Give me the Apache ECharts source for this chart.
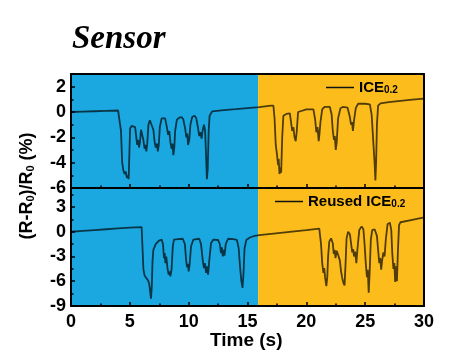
<!DOCTYPE html>
<html>
<head>
<meta charset="utf-8">
<script src="https://cdn.jsdelivr.net/npm/echarts@6/dist/echarts.min.js"></script>
<style>
html,body{margin:0;padding:0;background:#fff;}
#chart{width:474px;height:355px;}
</style>
</head>
<body>
<div id="chart"></div>
<script>
// ---------- data ----------
var titleText = 'Sensor';
var xTicks = [0, 5, 10, 15, 20, 25, 30];
var topTicks = [-6, -4, -2, 0, 2];
var bottomTicks = [-9, -6, -3, 0, 3];
var phaseSplit = 15.9;   // boundary between the blue and orange phases (s)
var seriesNames = ['ICE', 'Reused ICE'];

// ICE0.2 : [time (s), (R-R0)/R0 (%)]
var icePoints = [
[0,0],[1,0.03],[2,0.06],[3,0.09],[4,0.12],[4.15,0.13],[4.25,-1.5],[4.35,-4.0],[4.45,-4.6],[4.55,-4.9],
[4.65,-4.7],[4.75,-5.2],[4.85,-5.0],[4.9,-5.3],[4.97,-3.0],[5.02,-1.3],[5.15,-1.1],[5.3,-1.0],[5.45,-1.2],
[5.55,-2.0],[5.62,-2.6],[5.7,-2.2],[5.78,-2.8],[5.86,-2.4],[5.95,-1.4],[6.05,-1.3],[6.15,-2.2],[6.25,-2.9],
[6.32,-2.6],[6.4,-3.1],[6.48,-2.5],[6.58,-1.0],[6.7,-0.65],[6.85,-0.7],[7.0,-1.4],[7.1,-2.3],[7.2,-2.8],
[7.3,-2.5],[7.38,-3.1],[7.46,-2.6],[7.55,-1.2],[7.7,-0.5],[7.85,-0.4],[8.0,-0.5],[8.15,-1.2],[8.25,-1.8],
[8.35,-1.5],[8.45,-2.4],[8.55,-2.9],[8.62,-2.5],[8.7,-3.4],[8.78,-2.8],[8.85,-1.5],[9.0,-0.6],[9.2,-0.45],
[9.4,-0.4],[9.55,-0.6],[9.7,-1.3],[9.8,-2.0],[9.88,-1.7],[9.95,-2.6],[10.05,-2.2],[10.15,-1.0],[10.3,-0.4],
[10.5,-0.3],[10.65,-0.5],[10.8,-1.3],[10.9,-1.9],[11.0,-1.6],[11.1,-2.1],[11.2,-1.4],[11.3,-1.0],[11.4,-1.5],
[11.48,-3.5],[11.55,-5.3],[11.62,-4.5],[11.7,-1.5],[11.78,-0.3],[12,0.05],[13,0.15],[14,0.22],[15,0.3],
[16,0.38],[17.0,0.5],[17.2,0.5],[17.3,-0.5],[17.4,-2.6],[17.5,-3.3],[17.6,-4.2],[17.65,-3.7],[17.72,-4.9],
[17.8,-4.4],[17.86,-4.8],[17.95,-2.0],[18.05,-0.3],[18.3,-0.15],[18.6,-0.1],[18.7,-0.8],[18.8,-1.5],
[18.9,-1.2],[19.0,-2.0],[19.1,-2.3],[19.18,-1.6],[19.3,0.0],[19.45,0.15],[20,0.2],[20.6,0.2],[20.75,-0.6],
[20.85,-1.6],[20.95,-1.2],[21.05,-2.3],[21.12,-1.7],[21.2,-0.8],[21.35,0.2],[21.55,0.4],[22.0,0.4],
[22.15,-0.2],[22.25,-1.5],[22.35,-2.2],[22.42,-1.9],[22.5,-3.0],[22.58,-2.4],[22.7,-0.5],[22.9,0.3],
[23.1,0.4],[23.5,0.35],[23.7,-0.4],[23.8,-1.0],[23.88,-0.8],[23.96,-1.5],[24.05,-0.7],[24.2,0.3],
[24.4,0.65],[25.0,0.65],[25.4,0.6],[25.55,-0.2],[25.7,-2.5],[25.8,-4.0],[25.87,-5.4],[25.93,-4.0],
[26.0,-1.0],[26.1,0.5],[26.3,0.68],[27,0.78],[28,0.88],[29,0.97],[30,1.06]
];

// Reused ICE0.2 : [time (s), (R-R0)/R0 (%)]
var reusedPoints = [
[0,0],[1,0.1],[2,0.2],[3,0.3],[4,0.4],[5,0.5],[6.0,0.57],[6.08,-2.0],[6.15,-4.5],[6.25,-5.3],[6.4,-5.6],
[6.55,-5.9],[6.65,-6.3],[6.72,-7.2],[6.8,-8.1],[6.87,-6.5],[6.93,-3.5],[7.0,-2.2],[7.2,-1.5],[7.45,-1.1],
[7.7,-0.95],[7.82,-1.5],[7.9,-3.2],[7.96,-2.6],[8.02,-3.8],[8.1,-3.0],[8.2,-4.4],[8.3,-5.2],[8.38,-4.8],
[8.45,-5.4],[8.55,-4.5],[8.65,-1.8],[8.75,-0.95],[9.1,-0.9],[9.5,-0.85],[9.68,-1.5],[9.78,-3.4],[9.86,-4.3],
[9.93,-3.9],[10.0,-4.8],[10.08,-4.0],[10.2,-1.8],[10.4,-0.95],[10.9,-0.85],[11.05,-1.5],[11.2,-3.5],
[11.3,-4.4],[11.38,-3.8],[11.48,-5.0],[11.55,-4.2],[11.65,-5.2],[11.75,-3.5],[11.9,-1.4],[12.1,-0.95],
[12.5,-1.0],[12.65,-1.5],[12.75,-2.6],[12.83,-1.9],[12.9,-3.0],[12.98,-2.2],[13.05,-2.9],[13.15,-1.5],
[13.35,-0.85],[13.8,-0.9],[14.1,-1.0],[14.25,-2.0],[14.38,-4.5],[14.48,-6.0],[14.58,-6.8],[14.66,-5.0],
[14.75,-2.0],[14.9,-1.0],[15.2,-0.7],[15.6,-0.5],[16,-0.4],[17,-0.25],[18,-0.1],[19,0.05],[20,0.2],
[21.1,0.37],[21.25,-1.5],[21.35,-3.8],[21.45,-5.0],[21.52,-4.4],[21.6,-5.6],[21.7,-6.6],[21.78,-5.5],
[21.85,-3.0],[21.95,-1.2],[22.1,-0.8],[22.25,-1.4],[22.33,-2.7],[22.4,-2.2],[22.48,-3.2],[22.58,-2.3],
[22.7,-2.8],[22.85,-3.5],[22.95,-4.8],[23.05,-5.6],[23.15,-6.2],[23.25,-6.5],[23.33,-4.0],[23.42,-0.8],
[23.55,0.0],[23.7,-0.3],[23.82,-1.6],[23.9,-2.5],[23.98,-2.1],[24.05,-3.0],[24.15,-2.4],[24.25,-3.8],
[24.35,-2.0],[24.5,0.2],[24.7,0.65],[24.85,0.3],[24.95,-1.5],[25.05,-3.8],[25.15,-5.5],[25.22,-4.6],
[25.3,-7.4],[25.38,-5.0],[25.48,-1.0],[25.6,0.2],[25.8,0.3],[26.0,-0.5],[26.1,-2.2],[26.2,-3.8],
[26.28,-3.2],[26.36,-4.6],[26.45,-3.4],[26.55,-2.5],[26.65,-3.0],[26.75,-1.0],[26.9,0.9],[27.1,1.1],
[27.22,0.2],[27.3,-2.5],[27.4,-4.5],[27.48,-3.8],[27.55,-6.1],[27.62,-4.2],[27.7,-6.0],[27.78,-2.5],
[27.88,0.8],[28.0,1.15],[29,1.45],[30,1.75]
];

// ---------- styling ----------
var BLUE = '#1ba8e0', ORANGE = '#fcbd1c';
var FONT = 'Liberation Sans, Arial, sans-serif';
var tickFont = {color: '#000', fontFamily: FONT, fontWeight: 'bold', fontSize: 18};

function mainX(gridIndex, showLabels) {
  return {
    type: 'value', gridIndex: gridIndex, position: 'bottom', min: 0, max: 30, interval: 5, z: 10,
    axisLine: {show: true, onZero: false, lineStyle: {color: '#000', width: 2}},
    axisTick: {show: true, inside: true, length: 4, lineStyle: {color: '#000', width: 1.5}},
    minorTick: {show: true, splitNumber: 2, length: 2.5, lineStyle: {color: '#000', width: 1.5}},
    axisLabel: showLabels ? Object.assign({margin: 7}, tickFont) : {show: false},
    splitLine: {show: false}
  };
}
function borderX(gridIndex) {
  return {
    type: 'value', gridIndex: gridIndex, position: 'top', min: 0, max: 30, z: 10,
    axisLine: {show: true, onZero: false, lineStyle: {color: '#000', width: 2}},
    axisTick: {show: false}, axisLabel: {show: false}, splitLine: {show: false}
  };
}
function mainY(gridIndex, min, max, interval) {
  return {
    type: 'value', gridIndex: gridIndex, position: 'left', min: min, max: max, interval: interval, z: 10,
    axisLine: {show: true, onZero: false, lineStyle: {color: '#000', width: 2}},
    axisTick: {show: true, inside: true, length: 4, lineStyle: {color: '#000', width: 1.5}},
    minorTick: {show: true, splitNumber: 2, length: 2.5, lineStyle: {color: '#000', width: 1.5}},
    axisLabel: Object.assign({margin: 5, showMaxLabel: false, showMinLabel: true}, tickFont),
    splitLine: {show: false}
  };
}
function borderY(gridIndex, min, max) {
  return {
    type: 'value', gridIndex: gridIndex, position: 'right', min: min, max: max, z: 10,
    axisLine: {show: true, onZero: false, lineStyle: {color: '#000', width: 2}},
    axisTick: {show: false}, axisLabel: {show: false}, splitLine: {show: false}
  };
}
function phaseAreas() {
  return {
    silent: true,
    data: [
      [{xAxis: xTicks[0], itemStyle: {color: BLUE, opacity: 1}}, {xAxis: phaseSplit}],
      [{xAxis: phaseSplit, itemStyle: {color: ORANGE, opacity: 1}}, {xAxis: xTicks[xTicks.length - 1]}]
    ]
  };
}
var subRich = {
  sub: {fontFamily: FONT, fontWeight: 'bold', fontSize: 10, color: '#000', verticalAlign: 'bottom', padding: [6, 0, 0, 0]}
};

var chart = echarts.init(document.getElementById('chart'), null, {renderer: 'canvas'});
chart.setOption({
  animation: false,
  backgroundColor: '#fff',
  title: {
    text: titleText, left: 67, top: 18,
    textStyle: {fontFamily: 'Liberation Serif, serif', fontStyle: 'italic', fontWeight: 'bold', fontSize: 33, color: '#000'}
  },
  grid: [
    {left: 71, right: 50, top: 74, height: 114},
    {left: 71, right: 50, top: 188, height: 118}
  ],
  xAxis: [mainX(0, false), borderX(0), mainX(1, true), borderX(1)],
  yAxis: [mainY(0, -6, 3, 2), borderY(0, -6, 3), mainY(1, -9, 5.3, 3), borderY(1, -9, 5.3)],
  legend: [
    {
      data: [seriesNames[0]], left: 326, top: 80, icon: 'rect', itemWidth: 28, itemHeight: 1.5,
      itemStyle: {color: '#111', opacity: 1}, padding: 0,
      formatter: function (n) { return n + '{sub|0.2}'; },
      textStyle: {fontFamily: FONT, fontWeight: 'bold', fontSize: 15, color: '#000', rich: subRich}
    },
    {
      data: [seriesNames[1]], left: 275, top: 194, icon: 'rect', itemWidth: 28, itemHeight: 1.5,
      itemStyle: {color: '#111', opacity: 1}, padding: 0,
      formatter: function (n) { return n + '{sub|0.2}'; },
      textStyle: {fontFamily: FONT, fontWeight: 'bold', fontSize: 15, color: '#000', rich: subRich}
    }
  ],
  series: [
    {
      name: seriesNames[0], type: 'line', xAxisIndex: 0, yAxisIndex: 0, data: icePoints,
      showSymbol: false, symbol: 'none', sampling: null, z: 2,
      lineStyle: {color: '#000', width: 1.8, opacity: 0.68}, itemStyle: {color: '#000'},
      markArea: phaseAreas()
    },
    {
      name: seriesNames[1], type: 'line', xAxisIndex: 2, yAxisIndex: 2, data: reusedPoints,
      showSymbol: false, symbol: 'none', sampling: null, z: 2,
      lineStyle: {color: '#000', width: 1.8, opacity: 0.68}, itemStyle: {color: '#000'},
      markArea: phaseAreas()
    }
  ],
  graphic: [
    {
      type: 'text', left: 210, top: 331,
      style: {text: 'Time (s)', fontFamily: FONT, fontWeight: 'bold', fontSize: 19, fill: '#000'}
    },
    {
      type: 'text', x: 27, y: 186, rotation: Math.PI / 2,
      style: {
        text: '(R-R{s|0})/R{s|0} (%)', fontFamily: FONT, fontWeight: 'bold', fontSize: 18, fill: '#000',
        align: 'center', verticalAlign: 'middle',
        rich: {s: {fontFamily: FONT, fontWeight: 'bold', fontSize: 11, fill: '#000', verticalAlign: 'bottom', padding: [7, 0, 0, 0]}}
      }
    }
  ]
});
</script>
</body>
</html>
